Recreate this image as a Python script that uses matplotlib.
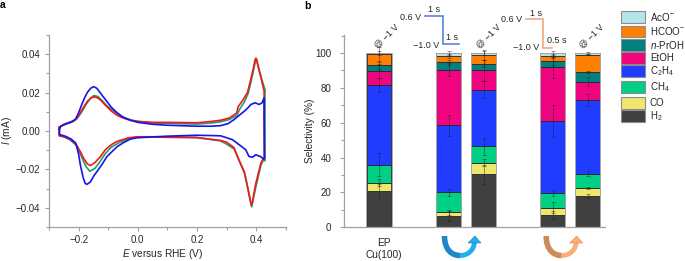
import matplotlib
matplotlib.use("Agg")
import matplotlib.pyplot as plt
from matplotlib.patches import Rectangle, PathPatch, Polygon
from matplotlib.path import Path
from matplotlib.ticker import MultipleLocator, FuncFormatter

plt.rcParams['font.family'] = ['Liberation Sans', 'DejaVu Sans']
plt.rcParams['mathtext.fontset'] = 'custom'
plt.rcParams['mathtext.rm'] = 'Liberation Sans'
plt.rcParams['mathtext.it'] = 'Liberation Sans:italic'

W, H = 685, 261
GREY = '#a0a0a0'
TXT = '#262626'

# panel a
red_x = [-0.265, -0.25, -0.235, -0.22, -0.21, -0.20, -0.184, -0.17, -0.158, -0.146, -0.135, -0.125, -0.11, -0.09, -0.07, -0.05, -0.025, 0, 0.05, 0.1, 0.2, 0.25, 0.28, 0.31, 0.3345, 0.339, 0.355, 0.371, 0.382, 0.392, 0.396, 0.399, 0.402, 0.406, 0.416, 0.427,
         0.428, 0.425, 0.416, 0.399, 0.392, 0.387, 0.384, 0.381, 0.376, 0.36, 0.337, 0.325, 0.30, 0.28, 0.2, 0.1, 0, -0.03, -0.07, -0.09, -0.11, -0.126, -0.145, -0.16, -0.17, -0.183, -0.195, -0.21, -0.23, -0.25, -0.265, -0.265]
red_y = [0.002, 0.0035, 0.0043, 0.0052, 0.0062, 0.0078, 0.0122, 0.0155, 0.0172, 0.0178, 0.0172, 0.016, 0.0135, 0.0105, 0.0082, 0.0068, 0.0056, 0.005, 0.0045, 0.0045, 0.0043, 0.005, 0.0056, 0.0068, 0.0094, 0.0126, 0.016, 0.0201, 0.0269, 0.0335, 0.0368, 0.0379, 0.0372, 0.034, 0.028, 0.0208,
         -0.015, -0.0142, -0.0168, -0.0273, -0.033, -0.0375, -0.0386, -0.0368, -0.0325, -0.0212, -0.0133, -0.0086, -0.0058, -0.0049, -0.0035, -0.0033, -0.003, -0.0035, -0.0054, -0.0072, -0.0098, -0.0133, -0.0165, -0.018, -0.0172, -0.0142, -0.0105, -0.0065, -0.0042, -0.003, -0.0025, 0.002]
green_x = [-0.265, -0.25, -0.235, -0.22, -0.205, -0.19, -0.175, -0.16, -0.148, -0.135, -0.12, -0.105, -0.09, -0.07, -0.05, -0.025, 0, 0.05, 0.1, 0.2, 0.25, 0.28, 0.31, 0.335, 0.345, 0.36, 0.373, 0.384, 0.393, 0.4, 0.407, 0.417, 0.43,
           0.43, 0.425, 0.416, 0.4, 0.393, 0.385, 0.377, 0.362, 0.34, 0.327, 0.30, 0.28, 0.2, 0.1, 0, -0.03, -0.06, -0.09, -0.11, -0.13, -0.145, -0.162, -0.175, -0.19, -0.205, -0.23, -0.25, -0.265, -0.265]
green_y = [0.002, 0.0033, 0.0041, 0.0048, 0.0065, 0.0098, 0.0138, 0.017, 0.0185, 0.018, 0.0158, 0.0132, 0.0115, 0.0092, 0.0073, 0.0058, 0.005, 0.0042, 0.004, 0.0036, 0.0042, 0.0048, 0.006, 0.0082, 0.0115, 0.015, 0.0195, 0.0265, 0.033, 0.0378, 0.034, 0.028, 0.0215,
           -0.0155, -0.015, -0.018, -0.0285, -0.0335, -0.0395, -0.034, -0.0225, -0.0145, -0.0095, -0.0068, -0.0052, -0.0033, -0.003, -0.003, -0.004, -0.0058, -0.0085, -0.0118, -0.0165, -0.0195, -0.021, -0.0185, -0.0135, -0.0078, -0.0045, -0.003, -0.0025, 0.002]
blue_x = [-0.265, -0.26, -0.24, -0.225, -0.211, -0.20, -0.19, -0.18, -0.17, -0.158, -0.149, -0.138, -0.125, -0.11, -0.09, -0.07, -0.05, -0.025, 0, 0.05, 0.1, 0.2, 0.25, 0.28, 0.305, 0.325, 0.36, 0.372, 0.382, 0.397, 0.41, 0.42, 0.427,
          0.428, 0.425, 0.416, 0.399, 0.388, 0.376, 0.365, 0.352, 0.337, 0.32, 0.28, 0.2, 0.1, 0, -0.025, -0.05, -0.07, -0.09, -0.104, -0.12, -0.135, -0.149, -0.16, -0.1716, -0.178, -0.185, -0.194, -0.20, -0.21, -0.225, -0.245, -0.265, -0.265]
blue_y = [0.001, 0.0025, 0.0038, 0.0046, 0.0059, 0.0095, 0.0135, 0.0172, 0.0202, 0.0224, 0.0231, 0.0222, 0.0195, 0.0165, 0.0125, 0.0095, 0.0072, 0.0056, 0.0045, 0.0035, 0.003, 0.0025, 0.0025, 0.0028, 0.0038, 0.0059, 0.0103, 0.012, 0.0138, 0.0147, 0.0138, 0.0147, 0.0173,
          -0.014, -0.0147, -0.0134, -0.0124, -0.0136, -0.0133, -0.0098, -0.0082, -0.0065, -0.0045, -0.0025, -0.0022, -0.0027, -0.0035, -0.0042, -0.0062, -0.0082, -0.0112, -0.0133, -0.0172, -0.0205, -0.0235, -0.0265, -0.0278, -0.0272, -0.024, -0.0177, -0.012, -0.0062, -0.0042, -0.0027, -0.0018, 0.001]

# panel b, cumulative tops of each segment, from H2 up to AcO-
bar_colors = ['#404040', '#efe66e', '#00d084', '#1f3cff', '#f0047f', '#008080', '#ff8000', '#b4e4ea']
legend_labels = ['H$_2$', 'CO', 'CH$_4$', 'C$_2$H$_4$', 'EtOH', '$\\mathit{n}$-PrOH', 'HCOO$^{-}$', 'AcO$^{-}$']
bar_pos = [379, 448.5, 483.5, 552.5, 587.5]
tops = [
    [21, 25.5, 36, 81.5, 89.5, 93, 99.5, 100],
    [6.5, 8.5, 20, 58.5, 90.5, 94.7, 98.2, 100],
    [30.5, 37, 46.5, 79, 90, 93.7, 98.7, 100],
    [7, 11.3, 19.7, 61, 91.8, 95.2, 98.5, 100],
    [18, 22.7, 30.8, 73, 83.5, 89, 99, 100],
]
errs = [
    [4, 2, 6.5, 4, 4, 2, 4, 1],
    [3, 1.5, 1.8, 6, 3.5, 1.5, 1, 1],
    [5.5, 2, 5, 5, 6, 2, 3, 1],
    [2.5, 3, 1.5, 9, 6, 2, 1, 1],
    [1, 0.5, 1.5, 3.5, 2.5, 0.5, 0.3, 0.5],
]


def ax_px(x0, y0, x1, y1):
    return fig.add_axes([x0 / W, 1 - y1 / H, (x1 - x0) / W, (y1 - y0) / H])


def style(ax, ypad):
    for s in ['top', 'right']:
        ax.spines[s].set_visible(False)
    for s in ['left', 'bottom']:
        ax.spines[s].set_color(GREY)
        ax.spines[s].set_linewidth(0.9)
    ax.tick_params(which='both', colors=GREY, labelcolor=TXT, labelsize=7, width=0.8)
    ax.tick_params(which='major', length=3)
    ax.tick_params(which='minor', length=2)
    ax.tick_params(axis='y', which='major', pad=ypad)
    ax.tick_params(axis='x', which='major', pad=3)


minus = lambda v, fmt: fmt.format(v).replace('-', '\u2212')

fig = plt.figure(figsize=(W / 100, H / 100), dpi=100)

# a
ax = ax_px(49, 35, 285.7, 227)
ax.plot(green_x, green_y, color='#1f9e6e', lw=1.2)
ax.plot(red_x, red_y, color='#f01818', lw=1.2)
ax.plot(blue_x, blue_y, color='#1414f0', lw=1.2)
ax.set_xlim(-0.3, 0.5)
ax.set_ylim(-0.05, 0.05)
ax.xaxis.set_major_locator(MultipleLocator(0.2))
ax.xaxis.set_minor_locator(MultipleLocator(0.1))
ax.yaxis.set_major_locator(MultipleLocator(0.02))
ax.yaxis.set_minor_locator(MultipleLocator(0.01))
ax.xaxis.set_major_formatter(FuncFormatter(lambda v, p: minus(round(v, 1) + 0.0, '{:.1f}')))
ax.yaxis.set_major_formatter(FuncFormatter(lambda v, p: minus(round(v, 2) + 0.0, '{:.2f}')))
style(ax, 3.5)
ax.set_xlabel('$\\mathit{E}$ versus RHE (V)', fontsize=7.3, color=TXT)
ax.xaxis.set_label_coords(0.48, -0.105)
ax.set_ylabel('$\\mathit{I}$ (mA)', fontsize=7.3, color=TXT)
ax.yaxis.set_label_coords(-0.148, 0.5)

# b
bx = ax_px(344.3, 35, 605, 227.3)
bar_w = 24.5
for pos, t, e in zip(bar_pos, tops, errs):
    bottom = 0
    for top, col in zip(t, bar_colors):
        bx.bar(pos, top - bottom, bar_w, bottom=bottom, color=col, edgecolor='#262626', linewidth=0.6, zorder=2)
        bottom = top
    bx.bar(pos, 100, bar_w + 1.2, fill=False, edgecolor='#a8a8a8', linewidth=0.7, zorder=3)
    bx.errorbar([pos] * len(t), t, yerr=e, fmt='none', ecolor='#202020', elinewidth=0.4,
                capsize=1.3, capthick=0.4, alpha=0.8, zorder=4)
bx.set_xlim(344.3, 605)
bx.set_ylim(0, 110.3)
bx.yaxis.set_major_locator(MultipleLocator(20))
bx.yaxis.set_minor_locator(MultipleLocator(10))
bx.set_yticks([0, 20, 40, 60, 80, 100])
bx.set_xticks([])
style(bx, 6.5)
bx.set_ylabel('Selectivity (%)', fontsize=7.3, color=TXT)
bx.yaxis.set_label_coords(-0.112, 0.5)

# overlay in picture pixels for the panel letters, legend and annotations
ov = fig.add_axes([0, 0, 1, 1], facecolor='none')
ov.set_xlim(0, W)
ov.set_ylim(H, 0)
ov.axis('off')

ov.text(0, 5, 'a', fontsize=7.5, fontweight='bold', va='center', color='black')
ov.text(304, 6, 'b', fontsize=7.5, fontweight='bold', va='center', color='black')

for x in [386, 488, 591]:
    ov.text(x, 36, '@ \u22121 V', fontsize=6.5, rotation=45, ha='center', va='center', color=TXT)

ov.text(384, 243, 'EP', fontsize=7.3, ha='center', va='center', color=TXT)
ov.text(384, 255, 'Cu(100)', fontsize=7.3, ha='center', va='center', color=TXT)

# pulse sketches
ov.plot([425, 443, 443, 459.5], [16, 16, 44, 44], color='#4a78d8', lw=1.1, solid_joinstyle='miter')
ov.plot([526, 543.5, 543.5, 552], [19, 19, 47.5, 47.5], color='#f0a070', lw=1.1, solid_joinstyle='miter')
for x, y, s, ha in [(421, 17, '0.6 V', 'right'), (434, 10, '1 s', 'center'), (439, 45, '\u22121.0 V', 'right'),
                    (452.5, 38, '1 s', 'center'), (522, 20, '0.6 V', 'right'), (536, 13, '1 s', 'center'),
                    (539, 47, '\u22121.0 V', 'right'), (557, 40.5, '0.5 s', 'center')]:
    ov.text(x, y, s, fontsize=6.5, ha=ha, va='center', color=TXT)


# curved arrows under the pulsed bars
def u_arrow(dx, col_l, col_r, edge):
    left = Path([(444.5 + dx, 236), (444.5 + dx, 250), (452 + dx, 255.5), (460 + dx, 255.5)],
                [Path.MOVETO, Path.CURVE4, Path.CURVE4, Path.CURVE4])
    right = Path([(460 + dx, 255.5), (468 + dx, 255.5), (474.5 + dx, 250), (474.5 + dx, 241)],
                 [Path.MOVETO, Path.CURVE4, Path.CURVE4, Path.CURVE4])
    ov.add_patch(PathPatch(left, fill=False, edgecolor=col_l, lw=4.0, capstyle='butt'))
    ov.add_patch(PathPatch(right, fill=False, edgecolor=col_r, lw=3.5, capstyle='butt'))
    ov.add_patch(Polygon([(468 + dx, 243), (475 + dx, 236), (481 + dx, 243)], closed=True,
                         facecolor=col_r, edgecolor=edge, lw=0.4))


u_arrow(0, '#1f86c8', '#20b0f0', '#2a70c0')
u_arrow(101.7, '#cc8a58', '#f5b07e', '#ee8030')

# legend swatches
leg_rows = [(110, 122), (97, 109), (81, 93), (65, 77), (52, 64), (39, 51), (25.7, 37), (10.7, 22.7)]
for (y0, y1), col, lab in zip(leg_rows, bar_colors, legend_labels):
    ov.add_patch(Rectangle((621.5, y0), 23.5, y1 - y0, facecolor=col, edgecolor='#8c8c8c', lw=0.8))
    ov.text(650, (y0 + y1) / 2, lab, fontsize=7, va='center', ha='left', color=TXT)

fig.savefig('out.png', dpi=100)
